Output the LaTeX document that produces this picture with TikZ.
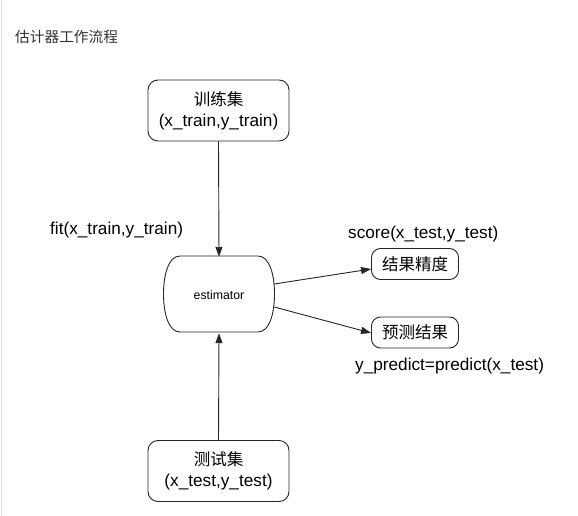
\documentclass[tikz,border=0pt]{standalone}
\usepackage{fontspec}
\setmainfont{Liberation Sans}
\newfontfamily\cjk{Noto Sans CJK SC}
\usetikzlibrary{arrows.meta,calc}
\begin{document}
\begin{tikzpicture}[x=1pt,y=-1pt,
  box/.style={draw=black!85,line width=0.9pt,rounded corners=10pt,minimum width=141pt,minimum height=61pt,align=center,inner sep=0pt},
  smallbox/.style={draw=black!85,line width=0.9pt,rounded corners=9pt,minimum width=87pt,minimum height=31pt,inner sep=0pt,font=\cjk\fontsize{16.5}{18}\selectfont},
  lbl/.style={font=\fontsize{17.2}{19}\selectfont,inner sep=0pt},
  arr/.style={draw=black!85,line width=0.9pt,-{Triangle[length=10pt,width=7pt]}},
  line/.style={line width=0.9pt,draw=black!85}]
\useasboundingbox[fill=white] (0,0) rectangle (578,516);
\draw[black!12,line width=1.2pt] (1.5,0) -- (1.5,516);
\node[anchor=west,inner sep=0pt,text=black!80,font=\cjk\fontsize{14.7}{16}\selectfont] (title) at (15,37) {估计器工作流程};
% boxes
\node[box] (train) at (218.5,110.5) {{\cjk\fontsize{16.5}{18}\selectfont 训练集}\\[6pt]{\fontsize{17.2}{19}\selectfont (x\_train,y\_train)}};
\node[box] (test) at (218.5,471) {{\cjk\fontsize{16.5}{18}\selectfont 测试集}\\[6pt]{\fontsize{17.2}{19}\selectfont (x\_test,y\_test)}};
% estimator
\draw[line] (180,256) -- (258,256) .. controls (270,256) and (274.5,276) .. (274.5,294)
  .. controls (274.5,312) and (270,332) .. (258,332) -- (180,332)
  .. controls (168,332) and (163.5,312) .. (163.5,294)
  .. controls (163.5,276) and (168,256) .. (180,256) -- cycle;
\node[minimum width=110pt,minimum height=76pt,inner sep=0pt,font=\fontsize{12.3}{14}\selectfont] (est) at (219,295) {estimator};
% result boxes
\node[smallbox] (r1) at (415,264) {结果精度};
\node[smallbox] (r2) at (415,332.5) {预测结果};
% labels
\node[lbl,anchor=west] (fit) at (50,230) {fit(x\_train,y\_train)};
\node[lbl,anchor=west] (score) at (348,234) {score(x\_test,y\_test)};
\node[lbl,anchor=west] (pred) at (355,366) {y\_predict=predict(x\_test)};
% connectors
\draw[arr] (train.south) -- (est.north);
\draw[arr] (test.north) -- (est.south);
\draw[arr] ($(est.east)+(0,-11)$) -- ($(r1.west)+(0,5)$);
\draw[arr] ($(est.east)+(0,12)$) -- ($(r2.west)+(0,0.5)$);
\end{tikzpicture}
\end{document}
